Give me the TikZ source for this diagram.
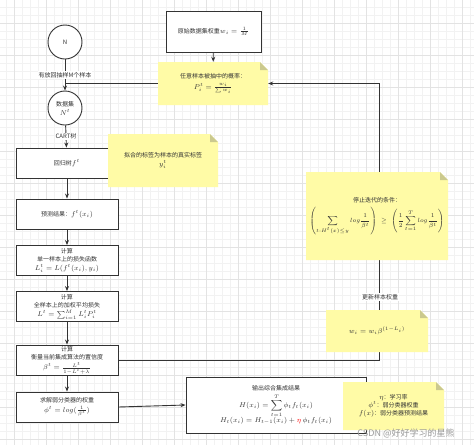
\documentclass[tikz,border=0pt]{standalone}
\usepackage[no-math]{fontspec}
\setmainfont{Noto Sans CJK SC}
\usepackage{amsmath,amssymb}
\usetikzlibrary{arrows.meta,calc}
\definecolor{notefill}{HTML}{FFFBA6}
\definecolor{foldfill}{HTML}{CBC98E}
\definecolor{txt}{HTML}{333333}
\newcommand{\mth}[1]{{\fontsize{7.5}{9}\selectfont$#1$}}
\newcommand{\mths}[1]{{\fontsize{6.5}{8}\selectfont$#1$}}
\tikzset{
  procbox/.style={draw=txt, line width=0.9pt, fill=white, minimum width=102pt, minimum height=30pt,
    align=center, inner sep=1pt, text=txt, font=\fontsize{6}{8}\selectfont},
  circnode/.style={circle, draw=txt, line width=0.9pt, fill=white, minimum size=34pt, inner sep=0pt,
    align=center, text=txt, font=\fontsize{6}{8}\selectfont},
  lbl/.style={fill=white, inner sep=1pt, text=txt, font=\fontsize{6}{8}\selectfont},
  conn/.style={draw=txt, line width=0.9pt},
  arr/.style={conn, -{Stealth[length=5pt,width=4pt]}},
  note/.style={draw=none, inner sep=1pt, align=center, text=txt, font=\fontsize{6}{8}\selectfont,
    path picture={
      \fill[notefill] (path picture bounding box.north west) -- ([xshift=-8pt]path picture bounding box.north east)
        -- ([yshift=-8pt]path picture bounding box.north east) -- (path picture bounding box.south east)
        -- (path picture bounding box.south west) -- cycle;
      \fill[foldfill] ([xshift=-8pt]path picture bounding box.north east) -- ([xshift=-8pt,yshift=-8pt]path picture bounding box.north east)
        -- ([yshift=-8pt]path picture bounding box.north east) -- cycle;}},
  gridminor/.style={draw=black!5, line width=0.4pt},
  gridmajor/.style={draw=black!11, line width=0.4pt}
}
\begin{document}
\begin{tikzpicture}[x=1pt,y=-1pt]
\useasboundingbox[fill=white] (0,0) rectangle (474,445);
% grid
\foreach \gx in {6,14,...,470} {\draw[gridminor] (\gx,0) -- (\gx,445);}
\foreach \gy in {7,15,...,445} {\draw[gridminor] (0,\gy) -- (474,\gy);}
\foreach \gx in {14,46,...,470} {\draw[gridmajor] (\gx,0) -- (\gx,445);}
\foreach \gy in {23,55,...,445} {\draw[gridmajor] (0,\gy) -- (474,\gy);}

% left column
\node[circnode] (cN) at (65,42) {N};
\node[circnode] (cD) at (65,108) {数据集\\[1pt]\mth{N^t}};
\node[procbox] (b1) at (67,163) {回归树\mth{f^t}};
\node[procbox] (b2) at (67,214) {预测结果：\mth{f^t(x_i)}};
\node[procbox] (b3) at (67,260.5) {计算\\单一样本上的损失函数\\[1pt]\mth{L_i^t = L(f^t(x_i), y_i)}};
\node[procbox] (b4) at (67,306.5) {计算\\全样本上的加权平均损失\\[1.5pt]\mth{L^t = \sum_{i=1}^{M} L_i^t P_i^t}};
\node[procbox] (b5) at (67,360) {计算\\衡量当前集成算法的置信度\\[1.5pt]\mth{\beta^t = \frac{L^t}{1-L^t+\lambda}}};
\node[procbox] (b6) at (67,407) {求解弱分类器的权重\\[1.5pt]\mth{\phi^t = log(\frac{1}{\beta^t})}};

% top
\node[procbox, minimum width=95pt, minimum height=41pt] (bTop) at (213.5,31.5) {原始数据集权重\mth{w_i = \frac{1}{M}}};
\node[note, minimum width=110pt, minimum height=43pt] (nP) at (213,83.5) {任意样本被抽中的概率：\\[2.5pt]\mth{P_i^t = \frac{w_i}{\sum w_i}}};

% output box
\node[procbox, minimum width=180pt, minimum height=56pt] (bOut) at (276,405) {输出综合集成结果\\[1.5pt]
  \mth{\displaystyle H(x_i) = \sum_{t=1}^{T}\phi_t f_t(x_i)}\\[-1pt]
  \mth{H_t(x_i) = H_{t-1}(x_i) + {\color{red}\eta}\,\phi_t f_t(x_i)}};

% connectors
\draw[arr] (cN) -- (cD) node[midway, lbl] {有放回抽样M个样本};
\draw[conn] (nP.west) -- (nP.west -| cN.center);
\draw[arr] (cD) -- (b1) node[midway, lbl] {CART树};
\draw[arr] (b1) -- (b2);
\draw[arr] (b2) -- (b3);
\draw[arr] (b3) -- (b4);
\draw[arr] (b4) -- (b5);
\draw[arr] (b5) -- (b6);
\draw[arr] (bTop) -- (nP);
\coordinate (loopx) at (379,0);
\draw[arr] (b5.east) -- (b5.east -| loopx) -- (nP.east -| loopx) -- (nP.east);
\draw[arr] (b6.east) -- (bOut.west);

% notes and labels over lines
\node[note, minimum width=110pt, minimum height=53pt] (nY) at (163,160.5) {拟合的标签为样本的真实标签\\[1pt]\mth{y_i^t}};
\node[note, minimum width=142pt, minimum height=88pt] (nStop) at (377,216) {停止迭代的条件：\\[4pt]
  \mths{\displaystyle\left(\sum_{t:H^t(x)\le y} log\frac{1}{\beta^t}\right) \;\ge\; \left(\frac{1}{2}\sum_{t=1}^{T} log\frac{1}{\beta^t}\right)}};
\node[lbl] (lW) at (380,297) {更新样本权重};
\node[note, minimum width=102pt, minimum height=42pt] (nW) at (377,331) {\mth{w_i = w_i\beta^{(1-L_i)}}};
\node[note, minimum width=101pt, minimum height=48pt] (nEta) at (393.5,406) {\mth{\eta}：学习率\\\mth{\phi^t}：弱分类器权重\\\mth{f(x)}：弱分类器预测结果};
\node[text=black!40, font=\fontsize{9}{10}\selectfont, inner sep=0pt] (wm) at (406,433) {CSDN @好好学习的星熊};
\end{tikzpicture}
\end{document}
